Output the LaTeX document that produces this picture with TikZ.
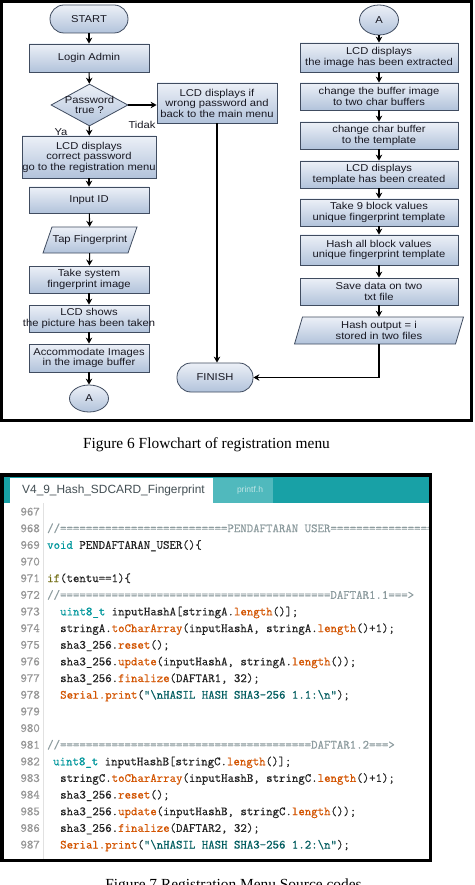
\documentclass[tikz,border=0pt]{standalone}
\usepackage{fontspec}
\setmainfont{Liberation Serif}
\setsansfont{Liberation Sans}
\newfontfamily\codefont[FakeBold=0.5]{Latin Modern Mono}
\newfontfamily\boxfont[FakeStretch=1.12]{Liberation Sans}
\usetikzlibrary{shapes.geometric, arrows.meta, calc}

\definecolor{boxtop}{RGB}{236,240,247}
\definecolor{boxbot}{RGB}{178,195,219}
\definecolor{boxline}{RGB}{64,76,96}
\definecolor{boxtext}{RGB}{25,25,35}
\definecolor{teal1}{RGB}{24,161,166}
\definecolor{teal2}{RGB}{80,185,189}
\definecolor{tabtext}{RGB}{67,79,84}
\definecolor{tabtwotext}{RGB}{190,228,229}
\definecolor{codetext}{RGB}{35,35,35}
\definecolor{ckw}{RGB}{0,151,156}
\definecolor{cfn}{RGB}{211,84,0}
\definecolor{ccm}{RGB}{140,155,158}
\definecolor{cst}{RGB}{0,92,95}
\definecolor{cif}{RGB}{114,110,20}
\definecolor{lnumcol}{RGB}{150,150,150}
\definecolor{guttercol}{RGB}{225,225,225}

\newcommand\cdKw[1]{\textcolor{ckw}{#1}}
\newcommand\cdFn[1]{\textcolor{cfn}{#1}}
\newcommand\cdCm[1]{\textcolor{ccm}{#1}}
\newcommand\cdSt[1]{\textcolor{cst}{#1}}
\newcommand\cdIf[1]{\textcolor{cif}{#1}}
\newcommand\cdnum[1]{\node[lnum, anchor=base east] (n#1) at (40, {515.5+16.65*(#1-967)}) {#1};}
\newcommand\cdline[3]{\node[code, anchor=base west] (c#1) at (#2, {515.5+16.65*(#1-967)}) {#3};}

\tikzset{
  shadefill/.style={top color=boxtop, bottom color=boxbot},
  flbox/.style={rectangle, draw=boxline, line width=0.8pt, shadefill,
    font=\boxfont\fontsize{10}{10.5}\selectfont, text=boxtext, align=center,
    inner sep=0pt, minimum width=120pt, minimum height=28pt},
  rbox/.style={flbox, minimum width=158pt, minimum height=27pt},
  term/.style={flbox, rounded corners=14pt, minimum width=78pt},
  conn/.style={flbox, ellipse, minimum width=39pt, minimum height=27pt},
  dia/.style={flbox, diamond, minimum width=77pt, minimum height=42pt},
  ptext/.style={rectangle, font=\boxfont\fontsize{10}{10.5}\selectfont, text=boxtext, align=center, inner sep=0pt},
  pshape/.style={draw=boxline, line width=0.8pt, shadefill},
  lbl/.style={font=\boxfont\fontsize{10}{10.5}\selectfont, text=boxtext, align=center, inner sep=0pt},
  arr/.style={line width=1.1pt, -{Stealth[length=6pt,width=6.5pt]}},
  code/.style={font=\codefont\fontsize{12.5}{13}\selectfont, text=codetext, inner sep=0pt},
  lnum/.style={code, text=lnumcol},
  captxt/.style={font=\rmfamily\fontsize{15.4}{16}\selectfont, inner sep=0pt},
}

\begin{document}
\begin{tikzpicture}[x=1pt, y=-1pt]
\useasboundingbox (0,0) rectangle (474,885);
\fill[white] (0,0) rectangle (474,885);

% ---------------- Flowchart ----------------
% parallelogram shapes
\path[pshape] (52,227) -- (137,227) -- (128,253) -- (43,253) -- cycle;
\path[pshape] (302.5,317) -- (463.5,317) -- (455.5,344) -- (294.5,344) -- cycle;

\node[term] (start) at (89,19) {START};
\node[flbox] (login) at (89,58) {Login Admin};
\node[dia, label={[lbl]center:Password\\true ?}] (pw) at (89.5,105) {};
\node[flbox, minimum height=40pt] (wrong) at (217,103) {LCD displays if\\wrong password and\\back to the main menu};
\node[flbox, minimum width=134pt, minimum height=42pt] (correct) at (89,157) {LCD displays\\correct password\\go to the registration menu};
\node[flbox, minimum height=26pt] (inputid) at (89,200) {Input ID};
\node[ptext, minimum width=85pt, minimum height=26pt] (tap) at (90,240) {Tap Fingerprint};
\node[flbox, minimum height=27pt] (take) at (89,279.5) {Take system\\fingerprint image};
\node[flbox, minimum height=27pt, label={[lbl]center:LCD shows\\the picture has been taken}] (lcdshows) at (89,318.5) {};
\node[flbox] (accom) at (89,358) {Accommodate Images\\in the image buffer};
\node[conn] (a1) at (89,398.5) {A};
\node[term, minimum width=76pt, minimum height=29pt] (finish) at (215,377.5) {FINISH};

\node[lbl] (ya) at (61,132) {Ya};
\node[lbl] (tidak) at (142,125) {Tidak};

\node[conn, minimum height=30pt] (a2) at (379,20) {A};
\node[rbox, minimum height=29pt] (r1) at (379,57.5) {LCD displays\\the image has been extracted};
\node[rbox] (r2) at (379,96.5) {change the buffer image\\to two char buffers};
\node[rbox] (r3) at (379,135.5) {change char buffer\\to the template};
\node[rbox] (r4) at (379,174.5) {LCD displays\\template has been created};
\node[rbox] (r5) at (379,212.5) {Take 9 block values\\unique fingerprint template};
\node[rbox, minimum height=30pt] (r6) at (379,250) {Hash all block values\\unique fingerprint template};
\node[rbox] (r7) at (379,291.5) {Save data on two\\txt file};
\node[ptext, minimum width=161pt, minimum height=27pt] (r8) at (379,330.5) {Hash output = i\\stored in two files};

\draw[arr] (start) -- (login);
\draw[arr] (login) -- (pw);
\draw[arr] (pw) -- (correct);
\draw[arr] (pw.east) -- (pw.east -| wrong.west);
\draw[arr] (correct) -- (inputid);
\draw[arr] (inputid) -- (tap);
\draw[arr] (tap) -- (take);
\draw[arr] (take) -- (lcdshows);
\draw[arr] (lcdshows) -- (accom);
\draw[arr] (accom) -- (a1);
\draw[arr] (wrong.south) -- (wrong.south |- finish.north);

\draw[arr] (a2) -- (r1);
\draw[arr] (r1) -- (r2);
\draw[arr] (r2) -- (r3);
\draw[arr] (r3) -- (r4);
\draw[arr] (r4) -- (r5);
\draw[arr] (r5) -- (r6);
\draw[arr] (r6) -- (r7);
\draw[arr] (r7) -- (r8);
\draw[arr] (r8.south) |- (finish.east);

\draw[line width=3pt] (1.5,1.5) rectangle (471.5,420);

\node[captxt, anchor=base] (cap6) at (206.5,448) {Figure 6 Flowchart of registration menu};

% ---------------- Code panel ----------------
\draw[line width=3.5pt, fill=white] (1.75,474.75) rectangle (430.25,860.25);
\fill[teal1] (3.5,476.5) rectangle (428.5,503);
\fill[white] (10,477.5) rectangle (213,503);
\fill[teal2] (213,477.5) rectangle (273,503);
\node[anchor=west, inner sep=0pt, font=\sffamily\fontsize{11.9}{12}\selectfont, text=tabtext] (tab1) at (22,490) {V4\_9\_Hash\_SDCARD\_Fingerprint};
\node[inner sep=0pt, font=\sffamily\fontsize{8.5}{9}\selectfont, text=tabtwotext] (tab2) at (250,490) {printf.h};
\draw[guttercol, line width=0.8pt] (43.5,503) -- (43.5,858.5);

\cdnum{967}\cdnum{968}\cdnum{969}\cdnum{970}\cdnum{971}\cdnum{972}\cdnum{973}
\cdnum{974}\cdnum{975}\cdnum{976}\cdnum{977}\cdnum{978}\cdnum{979}\cdnum{980}
\cdnum{981}\cdnum{982}\cdnum{983}\cdnum{984}\cdnum{985}\cdnum{986}\cdnum{987}

\begin{scope}
\clip (44,503) rectangle (428.5,858.5);
\cdline{968}{47}{\cdCm{//==========================PENDAFTARAN USER=========================}}
\cdline{969}{47}{\cdKw{void} PENDAFTARAN\_USER()\{}
\cdline{971}{47}{\cdIf{if}(tentu==1)\{}
\cdline{972}{47}{\cdCm{//==========================================DAFTAR1.1===>}}
\cdline{973}{60}{\cdKw{uint8\_t} inputHashA[stringA.\cdFn{length}()];}
\cdline{974}{60}{stringA.\cdFn{toCharArray}(inputHashA, stringA.\cdFn{length}()+1);}
\cdline{975}{60}{sha3\_256.\cdFn{reset}();}
\cdline{976}{60}{sha3\_256.\cdFn{update}(inputHashA, stringA.\cdFn{length}());}
\cdline{977}{60}{sha3\_256.\cdFn{finalize}(DAFTAR1, 32);}
\cdline{978}{60}{\cdFn{Serial.print}(\cdSt{"\textbackslash nHASIL HASH SHA3-256 1.1:\textbackslash n"});}
\cdline{981}{47}{\cdCm{//=======================================DAFTAR1.2===>}}
\cdline{982}{53}{\cdKw{uint8\_t} inputHashB[stringC.\cdFn{length}()];}
\cdline{983}{60}{stringC.\cdFn{toCharArray}(inputHashB, stringC.\cdFn{length}()+1);}
\cdline{984}{60}{sha3\_256.\cdFn{reset}();}
\cdline{985}{60}{sha3\_256.\cdFn{update}(inputHashB, stringC.\cdFn{length}());}
\cdline{986}{60}{sha3\_256.\cdFn{finalize}(DAFTAR2, 32);}
\cdline{987}{60}{\cdFn{Serial.print}(\cdSt{"\textbackslash nHASIL HASH SHA3-256 1.2:\textbackslash n"});}
\end{scope}

\node[captxt, anchor=base] (cap7) at (233.5,889) {Figure 7 Registration Menu Source codes};
\end{tikzpicture}
\end{document}
